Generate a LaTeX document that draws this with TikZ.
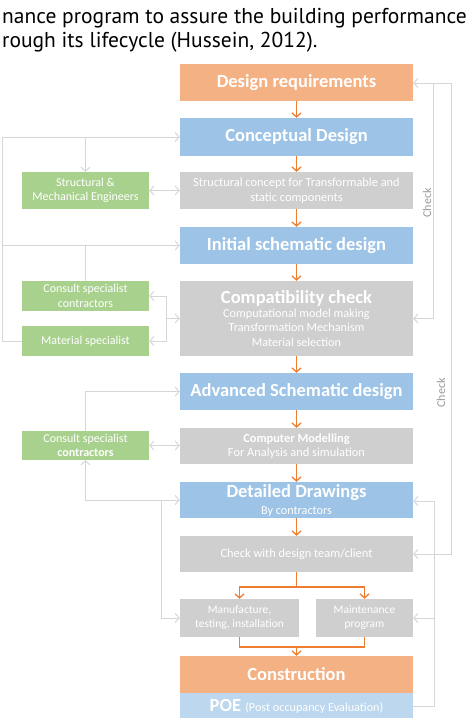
\documentclass[tikz,border=0pt]{standalone}
\usepackage{fontspec}
\setmainfont{Carlito}
\newfontfamily\captionfont{PT Sans}
\usetikzlibrary{arrows.meta}
\definecolor{stageorange}{HTML}{F4B183}
\definecolor{stageblue}{HTML}{9DC3E6}
\definecolor{poeblue}{HTML}{BDD7EE}
\definecolor{taskgray}{HTML}{CFCFCF}
\definecolor{partygreen}{HTML}{A9D18E}
\definecolor{floworange}{HTML}{ED7D31}
\definecolor{linkgray}{HTML}{D6D6D6}
\newcommand{\titlesize}{\bfseries\fontsize{18.5}{20}\selectfont}
\newcommand{\subsize}{\mdseries\fontsize{12.2}{14}\selectfont}

\begin{document}
\begin{tikzpicture}[x=1pt, y=-1pt,
  stage/.style={fill=#1, minimum width=233pt, minimum height=37pt, inner sep=0pt, text=white, font=\titlesize, align=center},
  task/.style={fill=taskgray, minimum width=233pt, minimum height=37pt, inner sep=0pt, text=white, font=\fontsize{12.4}{14.5}\selectfont, align=center},
  party/.style={fill=partygreen, minimum width=127pt, minimum height=30pt, inner sep=0pt, text=white, font=\fontsize{12}{14.5}\selectfont, align=center},
  flow/.style={draw=floworange, line width=1.3pt, -{Straight Barb[length=4pt,width=9pt]}},
  flowline/.style={draw=floworange, line width=1.3pt},
  link/.style={draw=linkgray, line width=1pt, -{Straight Barb[length=4pt,width=9pt]}},
  linkboth/.style={draw=linkgray, line width=1pt, {Straight Barb[length=4pt,width=9pt]}-{Straight Barb[length=4pt,width=9pt]}},
  linkline/.style={draw=linkgray, line width=1pt},
  checklabel/.style={text=gray!80, font=\fontsize{12}{14}\selectfont, rotate=90}]
\useasboundingbox (0,0) rectangle (474,718);

% Caption lines above the chart
\node[anchor=base west, inner sep=0pt, font=\captionfont\fontsize{21.5}{24}\selectfont] (capa) at (2,23) {nance program to assure the building performance};
\node[anchor=base west, inner sep=0pt, font=\captionfont\fontsize{21.5}{24}\selectfont] (capb) at (2,47) {rough its lifecycle (Hussein, 2012).};

% Main column of stages
\node[stage=stageorange] (req) at (296.5,82.5) {Design requirements};
\node[stage=stageblue, minimum height=38pt] (concept) at (296.5,137) {Conceptual Design};
\node[task] (structc) at (296.5,190.5) {Structural concept for Transformable and\\static components};
\node[stage=stageblue] (initial) at (296.5,245.5) {Initial schematic design};
\node[task, minimum height=75pt] (compat) at (296.5,318.5) {{\titlesize Compatibility check}\\[-1pt]{\subsize Computational model making}\\{\subsize Transformation Mechanism}\\{\subsize Material selection}};
\node[stage=stageblue] (advanced) at (296.5,391.5) {Advanced Schematic design};
\node[task, minimum height=36pt] (modelling) at (296.5,446) {\textbf{Computer Modelling}\\For Analysis and simulation};
\node[stage=stageblue, minimum height=36pt] (detailed) at (296.5,500) {Detailed Drawings\\[-3pt]{\subsize By contractors}};
\node[task, minimum height=36pt] (checkteam) at (296.5,554) {Check with design team/client};
\node[task, minimum width=119pt, minimum height=38pt, font=\fontsize{11.5}{14}\selectfont] (manufacture) at (239.5,618) {Manufacture,\\testing, installation};
\node[task, minimum width=97pt, minimum height=38pt, font=\fontsize{11.5}{14}\selectfont] (maintenance) at (364.5,618) {Maintenance\\program};
\node[stage=stageorange] (construction) at (296.5,674.5) {Construction};
\node[stage=poeblue, minimum height=26pt] (poe) at (296.5,706) {POE {\subsize(Post occupancy Evaluation)}};

% Consultants on the left
\node[party, minimum height=37pt] (engineers) at (85.5,190.5) {Structural \&\\Mechanical Engineers};
\node[party] (consulta) at (85.5,296) {Consult specialist\\contractors};
\node[party] (material) at (85.5,341) {Material specialist};
\node[party, minimum height=29pt] (consultb) at (85.5,445.5) {Consult specialist\\\textbf{contractors}};

% Rails and junctions
\coordinate (lrail) at (2,0);
\coordinate (bracket) at (166,0);
\coordinate (mbranch) at (161,0);
\coordinate (railin) at (433,83);
\coordinate (railout) at (451,83);
\coordinate (railpoe) at (434,501);
\coordinate (split) at (296.5,587);
\coordinate (merge) at (296.5,647);

% Orange main flow
\draw[flow] (req) -- (concept);
\draw[flow] (concept) -- (structc);
\draw[flow] (structc) -- (initial);
\draw[flow] (initial) -- (compat);
\draw[flow] (compat) -- (advanced);
\draw[flow] (advanced) -- (modelling);
\draw[flow] (modelling) -- (detailed);
\draw[flow] (detailed) -- (checkteam);
\draw[flowline] (checkteam) -- (split);
\draw[flow] (split) -| (manufacture.north);
\draw[flow] (split) -| (maintenance.north);
\draw[flowline] (manufacture.south) |- (merge);
\draw[flowline] (maintenance.south) |- (merge);
\draw[flow] (merge) -- (construction);

% Left feedback links
\draw[link] (material.west) -- (material.west -| lrail) |- (concept.west);
\draw[link] (initial.west -| lrail) -- (initial.west);
\draw[link] (concept.west -| engineers.north) -- (engineers.north);
\draw[linkline] (consulta.north) -- (consulta.north |- initial.west);
\draw[linkboth] (engineers) -- (structc);
\draw[link] (compat.west -| bracket) |- (consulta.east);
\draw[link] (compat.west -| bracket) |- (material.east);
\draw[link] (compat.west -| bracket) -- (compat.west);
\draw[link] (consultb.north) |- (advanced.west);
\draw[linkboth] (consultb.east) -- (consultb.east -| modelling.west);
\draw[linkboth] (consultb.south) |- (detailed.west);
\draw[link] (detailed.west -| mbranch) |- (manufacture.west);

% Right check loops
\draw[linkboth] (compat.east) -| (railin) -- (req.east |- railin);
\draw[link] (railin) -- (railout) |- (checkteam.east);
\draw[link] (poe.east) -| (railpoe) -- (detailed.east |- railpoe);
\draw[link] (maintenance.east -| railpoe) -- (maintenance.east);
\node[checklabel] (checka) at (427,203) {Check};
\node[checklabel] (checkb) at (441,393) {Check};
\end{tikzpicture}
\end{document}
